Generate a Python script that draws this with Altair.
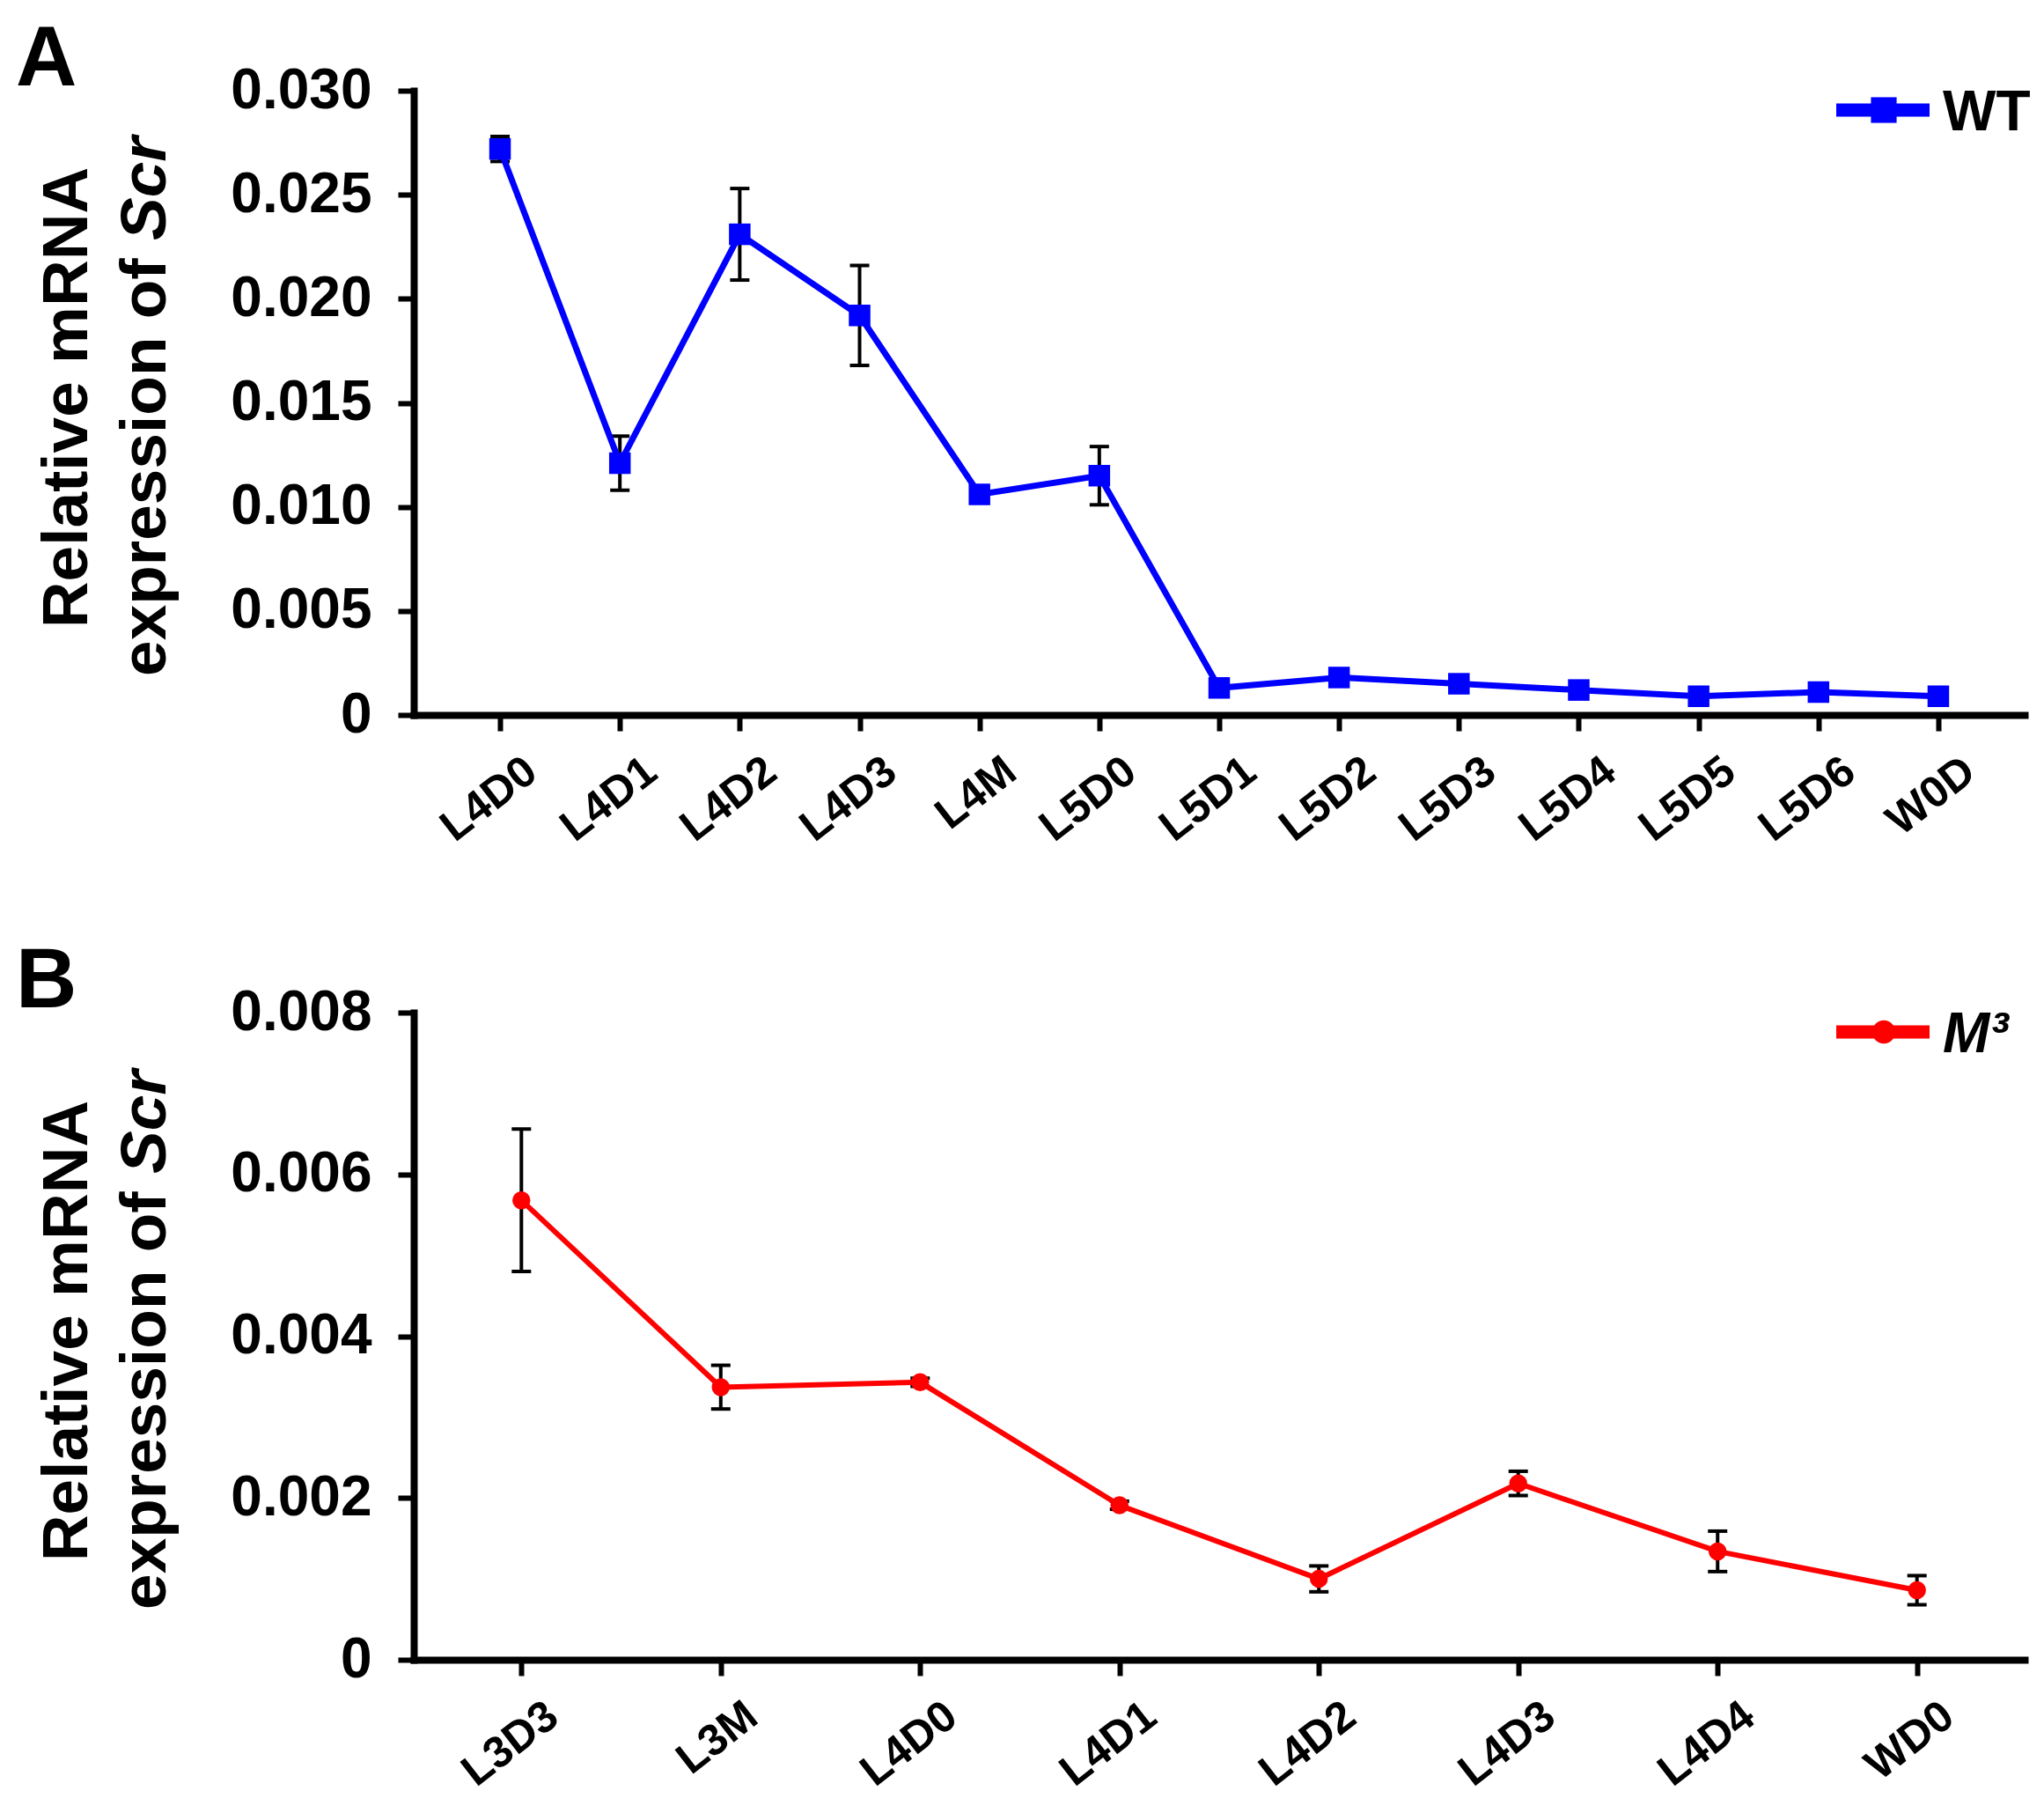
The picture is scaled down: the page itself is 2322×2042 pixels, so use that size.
import altair as alt
import pandas as pd

# ---------------- data ----------------
a_stage = ["L4D0", "L4D1", "L4D2", "L4D3", "L4M", "L5D0", "L5D1",
           "L5D2", "L5D3", "L5D4", "L5D5", "L5D6", "W0D"]
a_mean = [0.0272, 0.0121, 0.0231, 0.0192, 0.0106, 0.0115, 0.0013,
          0.0018, 0.0015, 0.0012, 0.0009, 0.0011, 0.0009]
a_err = [0.0006, 0.0013, 0.0022, 0.0024, 0.0003, 0.0014, 0.0002,
         0.0002, 0.0002, 0.0002, 0.0001, 0.0001, 0.0001]
a_ticks = [0, 0.005, 0.010, 0.015, 0.020, 0.025, 0.030]

b_stage = ["L3D3", "L3M", "L4D0", "L4D1", "L4D2", "L4D3", "L4D4", "WD0"]
b_mean = [0.00568, 0.00337, 0.00343, 0.00191, 0.00100, 0.00218, 0.00134, 0.00086]
b_err = [0.00088, 0.00027, 0.00005, 0.00005, 0.00016, 0.00015, 0.00025, 0.00018]
b_ticks = [0, 0.002, 0.004, 0.006, 0.008]

FONT = "Liberation Sans"
W = 1830


def panel(stages, mean, err, ticks, color, shape, size, leg_size, line_w, pad, height,
          letter, legend_label, legend_italic, extent=False):
    df = pd.DataFrame({
        "stage": stages,
        "mean": mean,
        "lo": [m - e for m, e in zip(mean, err)],
        "hi": [m + e for m, e in zip(mean, err)],
    })
    ymax = ticks[-1]
    xaxis = alt.Axis(
        title=None, grid=False, domainColor="black", domainWidth=8, domainCap="square",
        tickColor="black", tickWidth=6, tickSize=18,
        labelFont=FONT, labelFontSize=50, labelFontWeight="bold", labelColor="black",
        labelAngle=-38, labelAlign="right", labelBaseline="top",
        labelPadding=20, labelOffset=20,
    )
    yaxis = alt.Axis(
        title=None, grid=False, values=ticks, domainColor="black", domainWidth=8,
        domainCap="square", tickColor="black", tickWidth=6, tickSize=18,
        labelFont=FONT, labelFontSize=64, labelFontWeight="bold", labelColor="black",
        labelPadding=30,
        labelExpr="datum.value == 0 ? '0' : format(datum.value, '.3f')",
    )
    xs = alt.Scale(type="point", padding=pad)
    ys = alt.Scale(domain=[0, ymax], nice=False)
    X = alt.X("stage:N", sort=stages, scale=xs, axis=xaxis)

    base = alt.Chart(df)
    bars = base.mark_rule(color="black", strokeWidth=4).encode(
        x=X, y=alt.Y("lo:Q", scale=ys, axis=yaxis), y2="hi:Q")
    cap_lo = base.mark_tick(color="black", size=22, thickness=4, opacity=1).encode(
        x=X, y=alt.Y("lo:Q", scale=ys, axis=yaxis))
    cap_hi = base.mark_tick(color="black", size=22, thickness=4, opacity=1).encode(
        x=X, y=alt.Y("hi:Q", scale=ys, axis=yaxis))
    line = base.mark_line(color=color, strokeWidth=line_w).encode(
        x=X, y=alt.Y("mean:Q", scale=ys, axis=yaxis))
    pts = base.mark_point(shape=shape, filled=True, size=size, color=color, opacity=1).encode(
        x=X, y=alt.Y("mean:Q", scale=ys, axis=yaxis))

    # legend (drawn manually: line + marker + label)
    leg = alt.Chart(pd.DataFrame({"label": [legend_label]}))
    leg_line = leg.mark_rule(color=color, strokeWidth=15).encode(
        x=alt.value(1616), x2=alt.value(1722), y=alt.value(22))
    leg_pt = leg.mark_point(shape=shape, filled=True, size=leg_size, color=color, opacity=1).encode(
        x=alt.value(1670), y=alt.value(22))
    leg_txt = leg.mark_text(
        font=FONT, fontSize=64, fontWeight="bold",
        fontStyle="italic" if legend_italic else "normal",
        align="left", baseline="middle", color="black").encode(
        x=alt.value(1737), y=alt.value(26), text="label:N")

    # panel letter
    lt = leg.mark_text(font=FONT, fontSize=96, fontWeight="bold", align="left",
                       baseline="alphabetic", color="black").encode(
        x=alt.value(-452), y=alt.value(-6), text=alt.value(letter))

    # y title, two lines, "Scr" in italics
    fs = 73
    c1 = height / 2 - 6
    c2 = height / 2 + 4
    start2 = c2 + 0.5 * 8.392 * fs
    split = start2 - 6.50 * fs
    t1 = leg.mark_text(font=FONT, fontSize=fs, fontWeight="bold", angle=270,
                       align="center", baseline="alphabetic", color="black").encode(
        x=alt.value(-371), y=alt.value(c1), text=alt.value("Relative mRNA"))
    t2 = leg.mark_text(font=FONT, fontSize=fs, fontWeight="bold", angle=270,
                       align="right", baseline="alphabetic", color="black").encode(
        x=alt.value(-282), y=alt.value(split), text=alt.value("expression of"))
    t3 = leg.mark_text(font=FONT, fontSize=fs, fontWeight="bold", fontStyle="italic",
                       angle=270, align="left", baseline="alphabetic", color="black").encode(
        x=alt.value(-282), y=alt.value(split - 0.278 * fs), text=alt.value("Scr"))

    layers = [bars, cap_lo, cap_hi, line, pts, leg_line, leg_pt, leg_txt, lt, t1, t2, t3]
    if extent:
        frame = leg.mark_rect(opacity=0).encode(
            x=alt.value(-462), x2=alt.value(0), y=alt.value(-95), y2=alt.value(0))
        layers.append(frame)
    return alt.layer(*layers).properties(width=W, height=height)


pa = panel(a_stage, a_mean, a_err, a_ticks, "#0000ff", "square", 600, 850, 7, 0.72, 709,
           "A", "WT", False, extent=True)
pb = panel(b_stage, b_mean, b_err, b_ticks, "#ff0000", "circle", 420, 700, 6, 0.54, 735,
           "B", "M³", True)

chart = alt.vconcat(pa, pb, spacing=338, bounds="flush").properties(
    padding=0, background="white"
).configure_view(stroke=None)

chart.save("out.html", embed_options={"renderer": "svg", "actions": False})
